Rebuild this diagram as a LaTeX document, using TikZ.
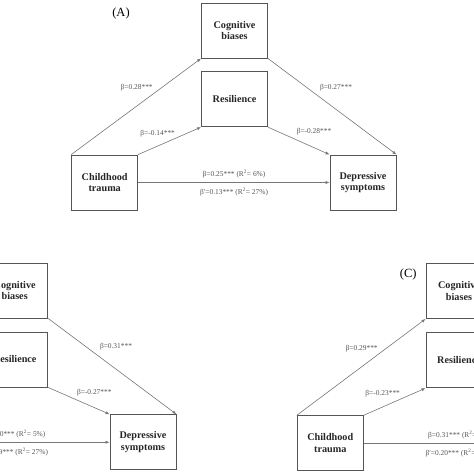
\documentclass[tikz,border=0pt]{standalone}
\usepackage{fontspec}
\setmainfont{Liberation Serif}
\usetikzlibrary{arrows.meta}
\definecolor{boxline}{HTML}{555555}
\definecolor{conn}{HTML}{777777}
\definecolor{lbl}{HTML}{555555}
\begin{document}
\begin{tikzpicture}[x=1pt,y=-1pt,
  box/.style={draw=boxline,line width=0.9pt,minimum width=66pt,minimum height=55pt,inner sep=0pt,align=center,font=\fontsize{10.2}{11.5}\selectfont\bfseries,text=black!85},
  conn/.style={draw=conn,line width=0.6pt,-{Latex[length=4pt,width=3.2pt]}},
  lab/.style={font=\fontsize{7.4}{8}\selectfont,text=lbl,inner sep=0pt},
  tag/.style={font=\fontsize{12.5}{13}\selectfont,inner sep=0pt}]
\clip (0,0) rectangle (474,474);
\fill[white] (0,0) rectangle (474,474);
% Panel A
\node[box] (acog) at (234.5,30.5) {Cognitive\\biases};
\node[box] (ares) at (234.5,99.2) {Resilience};
\node[box] (atr) at (104.7,182.5) {Childhood\\trauma};
\node[box] (adep) at (363,182.5) {Depressive\\symptoms};
\node[tag] (atag) at (121,13) {(A)};
\draw[conn] (atr.north west) -- (acog.south west);
\draw[conn] (atr.north east) -- (ares.south west);
\draw[conn] (acog.south east) -- (adep.north east);
\draw[conn] (ares.south east) -- (adep.north west);
\draw[conn] (atr.east) -- (adep.west);
\node[lab] (al1) at (136.7,87.3) {β=0.28***};
\node[lab] (al2) at (336,87.3) {β=0.27***};
\node[lab] (al3) at (157.7,133.3) {β=-0.14***};
\node[lab] (al4) at (314,132) {β=-0.28***};
\node[lab] (al5) at (234,174.5) {β=0.25*** (R\textsuperscript{2}= 6\%)};
\node[lab] (al6) at (234,192.3) {β′=0.13*** (R\textsuperscript{2}= 27\%)};
% Panel B
\node[box] (bcog) at (14.7,290.5) {Cognitive\\biases};
\node[box] (bres) at (14.7,359.5) {Resilience};
\node[box] (bdep) at (143,442.2) {Depressive\\symptoms};
\coordinate (btr) at (-82,442.2);
\draw[conn] (bcog.south east) -- (bdep.north east);
\draw[conn] (bres.south east) -- (bdep.north west);
\draw[conn] (btr) -- (bdep.west);
\node[lab] (bl2) at (116,346.7) {β=0.31***};
\node[lab] (bl4) at (94.3,392.7) {β=-0.27***};
\node[lab] (bl5) at (14,434.3) {β=0.20*** (R\textsuperscript{2}= 5\%)};
\node[lab] (bl6) at (14,452.3) {β′=0.19*** (R\textsuperscript{2}= 27\%)};
% Panel C
\node[box] (ccog) at (459,291) {Cognitive\\biases};
\node[box] (cres) at (459,360.2) {Resilience};
\node[box] (ctr) at (330.3,443.2) {Childhood\\trauma};
\node[tag] (ctag) at (408.3,274) {(C)};
\coordinate (cdep) at (560,443.2);
\draw[conn] (ctr.north west) -- (ccog.south west);
\draw[conn] (ctr.north east) -- (cres.south west);
\draw[conn] (ctr.east) -- (cdep);
\node[lab] (cl1) at (361.7,349) {β=0.29***};
\node[lab] (cl3) at (382.7,394) {β=-0.23***};
\node[lab] (cl5) at (459.5,435.2) {β=0.31*** (R\textsuperscript{2}= 6\%)};
\node[lab] (cl6) at (459.5,452.8) {β′=0.20*** (R\textsuperscript{2}= 27\%)};
\end{tikzpicture}
\end{document}
